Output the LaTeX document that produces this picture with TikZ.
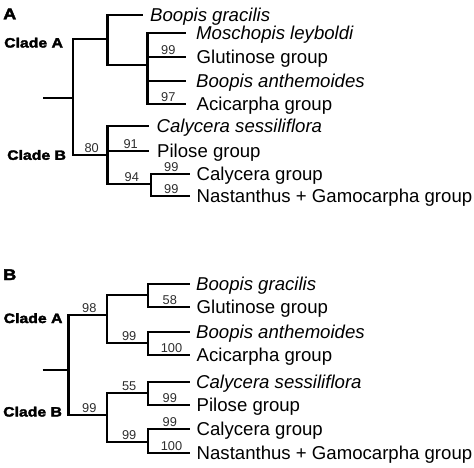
\documentclass[tikz,border=0pt]{standalone}
\usepackage{fontspec}
\setmainfont{Liberation Sans}
\newfontfamily\cladefont[FakeStretch=1.17,FakeBold=2.5]{Liberation Sans Bold}
\definecolor{supgray}{RGB}{45,45,45}
\begin{document}
\begin{tikzpicture}[x=1pt,y=-1pt,
  br/.style={draw=black,line width=2.1pt},
  sup/.style={font=\fontsize{12.8}{13}\selectfont,text=supgray,inner sep=1.3pt,anchor=south},
  leaf/.style={font=\fontsize{18.6}{20}\selectfont,anchor=base west,inner sep=0pt},
  ileaf/.style={leaf,font=\fontsize{18.6}{20}\selectfont\itshape},
  clade/.style={font=\cladefont\fontsize{13.5}{15}\selectfont,anchor=base west,inner sep=0pt},
  panel/.style={font=\cladefont\fontsize{15.5}{17}\selectfont,anchor=base west,inner sep=0pt}]
\useasboundingbox (0,0) rectangle (474,467);

% ---------------- Tree A ----------------
\node[panel] (pA) at (3,19.3) {A};
\node[clade] (cladeAA) at (4,47.5) {Clade A};
\node[clade] (cladeAB) at (7,159.8) {Clade B};

\coordinate (rA0) at (43,98);
\coordinate (rA) at (73,98);
\coordinate (aA) at (107.5,39);
\coordinate (aBG) at (143,15);
\coordinate (aIn) at (147.5,65);
\coordinate (aMo) at (186,33);
\coordinate (aGl) at (186,57);
\coordinate (aBa) at (186,81);
\coordinate (aAc) at (186,104);
\coordinate (bA) at (107.5,155);
\coordinate (bCs) at (149,126);
\coordinate (bPi) at (149,151);
\coordinate (bIn) at (151,184);
\coordinate (bCa) at (190,174);
\coordinate (bNa) at (190,196);

\draw[br] (rA0) -- (rA);
\draw[br] (rA) |- (aA);
\draw[br] (rA) |- (bA) node[sup,pos=0.77]{80};
\draw[br] (aA) |- (aBG);
\draw[br] (aA) |- (aIn);
\draw[br] (aIn) |- (aMo);
\draw[br] (aIn) |- (aGl) node[sup,pos=0.77]{99};
\draw[br] (aIn) |- (aBa);
\draw[br] (aIn) |- (aAc) node[sup,pos=0.77]{97};
\draw[br] (bA) |- (bCs);
\draw[br] (bA) |- (bPi) node[sup,pos=0.78]{91};
\draw[br] (bA) |- (bIn) node[sup,pos=0.78]{94};
\draw[br] (bIn) |- (bCa) node[sup,pos=0.76]{99};
\draw[br] (bIn) |- (bNa) node[sup,pos=0.76]{99};

\node[ileaf] (tABG) at (150,21.6) {Boopis gracilis};
\node[ileaf] (tAMo) at (196,39.6) {Moschopis leyboldi};
\node[leaf]  (tAGl) at (196.5,63.6) {Glutinose group};
\node[ileaf] (tABa) at (196,87.6) {Boopis anthemoides};
\node[leaf]  (tAAc) at (196.5,110.6) {Acicarpha group};
\node[ileaf] (tACs) at (156.5,132.6) {Calycera sessiliflora};
\node[leaf]  (tAPi) at (157,157.6) {Pilose group};
\node[leaf]  (tACa) at (196.5,180.6) {Calycera group};
\node[leaf]  (tANa) at (196.5,202.6) {Nastanthus + Gamocarpha group};

% ---------------- Tree B ----------------
\node[panel] (pB) at (3,280) {B};
\node[clade] (cladeBA) at (3.5,323) {Clade A};
\node[clade] (cladeBB) at (3,416.5) {Clade B};

\coordinate (rB0) at (42.7,370);
\coordinate (rB) at (68.5,370);
\coordinate (AcA) at (107,315);
\coordinate (Aa1) at (148,295);
\coordinate (Abg) at (190,284);
\coordinate (Agl) at (190,307);
\coordinate (Aa2) at (148,343);
\coordinate (Aba) at (190,332);
\coordinate (Aac) at (190,355);
\coordinate (BcB) at (107,415);
\coordinate (Bb1) at (148,393);
\coordinate (Bcs) at (190,382);
\coordinate (Bpi) at (190,405);
\coordinate (Bb2) at (148,442);
\coordinate (Bca) at (190,429);
\coordinate (Bna) at (190,453);

\draw[br] (rB0) -- (rB);
\draw[br] (rB) |- (AcA) node[sup,pos=0.77]{98};
\draw[br] (rB) |- (BcB) node[sup,pos=0.77]{99};
\draw[br] (AcA) |- (Aa1);
\draw[br] (AcA) |- (Aa2) node[sup,pos=0.77]{99};
\draw[br] (Aa1) |- (Abg);
\draw[br] (Aa1) |- (Agl) node[sup,pos=0.76]{58};
\draw[br] (Aa2) |- (Aba);
\draw[br] (Aa2) |- (Aac) node[sup,pos=0.78]{100};
\draw[br] (BcB) |- (Bb1) node[sup,pos=0.77]{55};
\draw[br] (BcB) |- (Bb2) node[sup,pos=0.77]{99};
\draw[br] (Bb1) |- (Bcs);
\draw[br] (Bb1) |- (Bpi) node[sup,pos=0.76]{99};
\draw[br] (Bb2) |- (Bca) node[sup,pos=0.76]{99};
\draw[br] (Bb2) |- (Bna) node[sup,pos=0.78]{100};

\node[ileaf] (tBBg) at (196,290.6) {Boopis gracilis};
\node[leaf]  (tBGl) at (196.5,313.6) {Glutinose group};
\node[ileaf] (tBBa) at (196,338.6) {Boopis anthemoides};
\node[leaf]  (tBAc) at (196.5,361.6) {Acicarpha group};
\node[ileaf] (tBCs) at (196,388.6) {Calycera sessiliflora};
\node[leaf]  (tBPi) at (196.5,411.6) {Pilose group};
\node[leaf]  (tBCa) at (196.5,435.6) {Calycera group};
\node[leaf]  (tBNa) at (196.5,459.6) {Nastanthus + Gamocarpha group};
\end{tikzpicture}
\end{document}
